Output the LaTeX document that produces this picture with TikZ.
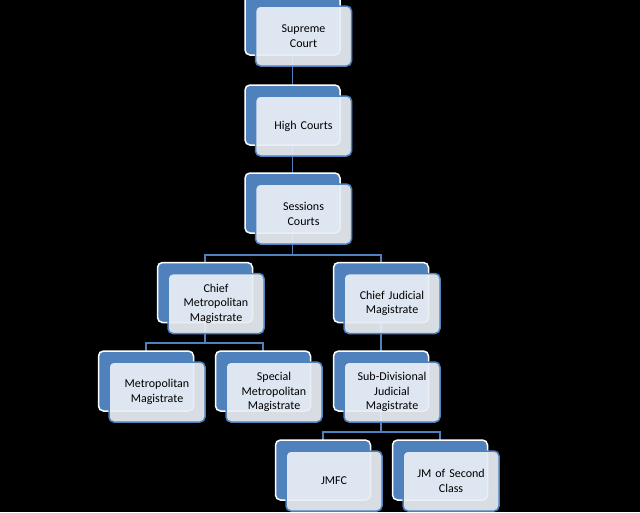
\documentclass[tikz,border=0pt]{standalone}
\usepackage{fontspec}
\setmainfont{Carlito}
\definecolor{bl}{HTML}{4F81BD}
\definecolor{fr}{HTML}{E9EEF6}
\begin{document}
\begin{tikzpicture}[x=1pt,y=-1pt,
  backbox/.style={draw=white,line width=1.5pt,fill=bl,rounded corners=5pt,minimum width=95pt,minimum height=60pt,inner sep=0pt},
  frontbox/.style={draw=bl,line width=1.5pt,fill=fr,fill opacity=0.93,text opacity=1,rounded corners=5pt,minimum width=96pt,minimum height=60pt,align=center,font=\fontsize{12}{14.5}\selectfont,text width=88pt},
  conn/.style={draw=bl,line width=1.5pt}]
\fill[black] (0,0) rectangle (640,512);
\useasboundingbox (0,0) rectangle (640,512);
\def\unit#1#2#3#4{%
  \node[backbox] (#1B) at (#2,#3) {};
  \node[frontbox] (#1F) at (#2+11,#3+11) {#4};}
% connectors (behind)
\coordinate (sc) at (292.5,25); \coordinate (hc) at (292.5,115); \coordinate (ss) at (292.5,203);
\coordinate (cm) at (205,292.5); \coordinate (cj) at (381,292.5);
\coordinate (mm) at (146,381); \coordinate (sm) at (263,381); \coordinate (sd) at (381,381);
\coordinate (jf) at (323,470); \coordinate (j2) at (440,470);
\draw[conn] (sc) -- (hc) -- (ss);
\draw[conn] (ss) -- (ss |- 0,255) -| (cm);
\draw[conn] (ss |- 0,255) -| (cj);
\draw[conn] (cm) -- (cm |- 0,343) -| (mm);
\draw[conn] (cm |- 0,343) -| (sm);
\draw[conn] (cj) -- (sd) -- (sd |- 0,432) -| (jf);
\draw[conn] (sd |- 0,432) -| (j2);
\unit{sup}{292.5}{25}{Supreme\\Court}
\unit{hig}{292.5}{115}{High Courts}
\unit{ses}{292.5}{203}{Sessions\\Courts}
\unit{cmm}{205}{292.5}{Chief\\Metropolitan\\Magistrate}
\unit{cjm}{381}{292.5}{Chief Judicial\\Magistrate}
\unit{met}{146}{381}{Metropolitan\\Magistrate}
\unit{spe}{263}{381}{Special\\Metropolitan\\Magistrate}
\unit{sub}{381}{381}{Sub-Divisional\\Judicial\\Magistrate}
\unit{jmf}{323}{470}{JMFC}
\unit{jms}{440}{470}{JM of Second\\Class}
\end{tikzpicture}
\end{document}
